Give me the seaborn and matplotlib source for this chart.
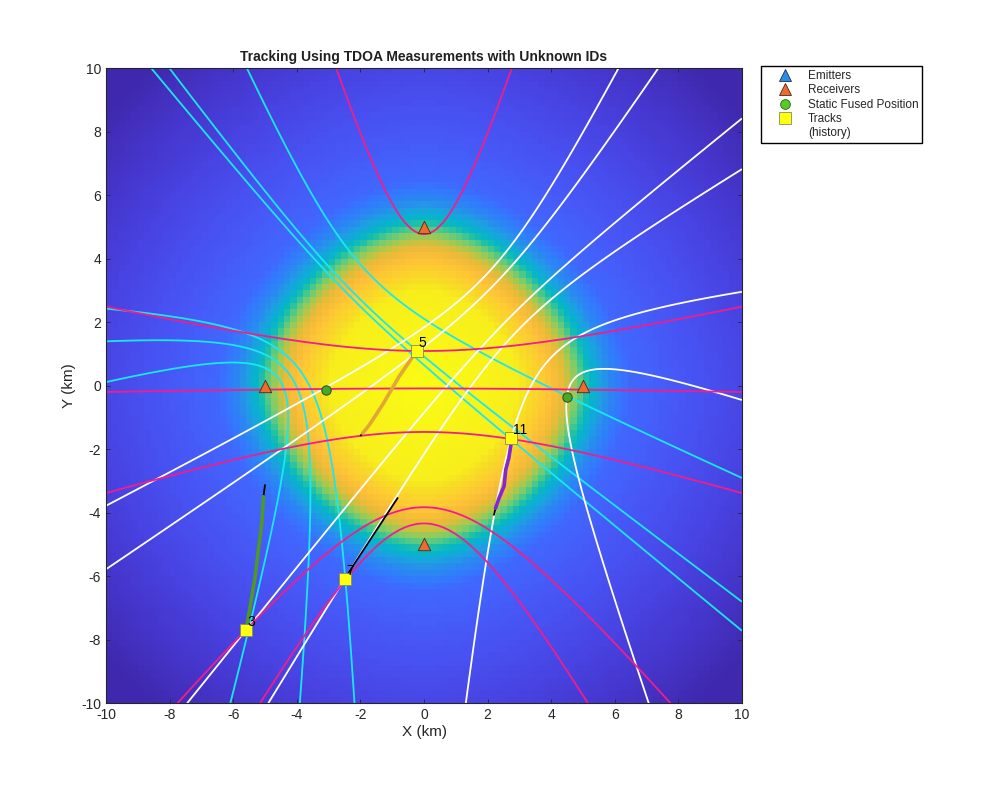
import numpy as np
import matplotlib.pyplot as plt
import seaborn as sns
from matplotlib.colors import LinearSegmentedColormap
from matplotlib.lines import Line2D

# receivers (km), the first one (top) is the TDOA reference
receiver_x = [0.0, -5.0, 5.0, 0.0]
receiver_y = [5.0, 0.0, 0.0, -5.0]

# range differences (km) of each TDOA detection, per receiver pair with the reference
rd_left = [-6.13, -5.44, -4.77, 0.69, 1.00, 2.53]      # cyan
rd_right = [-6.37, -4.40, -1.71, -0.78, 1.37, 2.16]    # white
rd_bottom = [-8.68, -7.66, -2.92, -0.18, 2.18, 9.54]   # magenta

# emitters only appear in the legend
emitter_x = []
emitter_y = []

fused_x = [-3.08, 4.49]
fused_y = [-0.14, -0.35]

track_ids = ['5', '11', '3', '7']
track_x = [-0.22, 2.74, -5.60, -2.48]
track_y = [1.10, -1.65, -7.70, -6.08]

hist5_x = [-1.93, -1.72, -1.30, -0.78, -0.25]
hist5_y = [-1.50, -1.24, -0.60, 0.29, 1.06]
hist11_x = [2.25, 2.36, 2.52, 2.57, 2.67, 2.75]
hist11_y = [-3.86, -3.54, -3.16, -2.65, -2.27, -1.75]
hist3_x = [-5.58, -5.45, -5.31, -5.21, -5.10, -5.05]
hist3_y = [-7.60, -6.86, -6.02, -5.18, -4.34, -3.50]

# ground truth: only the oldest end shows from under the history
truth5_x = [-1.99] + hist5_x
truth5_y = [-1.57] + hist5_y
truth11_x = [2.20] + hist11_x
truth11_y = [-4.07] + hist11_y
truth3_x = [-5.00] + hist3_x[::-1]
truth3_y = [-3.13] + hist3_y[::-1]
truth7_x = [-2.51, -0.83]
truth7_y = [-6.10, -3.54]

# coverage level against distance from the receiver centre (rounded-diamond norm)
cover_r = [0.0, 3.0, 3.8, 4.4, 4.9, 5.3, 5.8, 6.5, 8.0, 10.0, 14.0]
cover_level = [1.0, 0.97, 0.88, 0.78, 0.62, 0.47, 0.32, 0.21, 0.16, 0.11, 0.01]
cover_norm = 1.7

parula = LinearSegmentedColormap.from_list('parula', [
    (0.2422, 0.1504, 0.6603), (0.2691, 0.2016, 0.7834), (0.2810, 0.2636, 0.8886),
    (0.2803, 0.3296, 0.9567), (0.2586, 0.3937, 0.9924), (0.2086, 0.4596, 0.9980),
    (0.1707, 0.5238, 0.9565), (0.1436, 0.5860, 0.9082), (0.0992, 0.6441, 0.8716),
    (0.0311, 0.6911, 0.8216), (0.0300, 0.7270, 0.7415), (0.1401, 0.7584, 0.6413),
    (0.3127, 0.7891, 0.5314), (0.4974, 0.7987, 0.4095), (0.6671, 0.7838, 0.3018),
    (0.8180, 0.7513, 0.2393), (0.9400, 0.7299, 0.2181), (0.9963, 0.7549, 0.2208),
    (0.9853, 0.8155, 0.1787), (0.9634, 0.8914, 0.1288), (0.9769, 0.9839, 0.0805)])


def range_difference(px, py, k):
    return (np.hypot(px - receiver_x[k], py - receiver_y[k])
            - np.hypot(px - receiver_x[0], py - receiver_y[0]))


sns.set_theme(style='white')
plt.rcParams['font.family'] = ['Liberation Sans', 'DejaVu Sans']
plt.rcParams['axes.unicode_minus'] = False

fig = plt.figure(figsize=(10, 8), dpi=100)
ax = fig.add_axes([0.106, 0.121, 0.636, 0.794])

# coverage map
edges = np.linspace(-10, 10, 101)
centres = (edges[:-1] + edges[1:]) / 2
cx, cy = np.meshgrid(centres, centres)
ox, oy = np.mean(receiver_x), np.mean(receiver_y)
r = (np.abs(cx - ox) ** cover_norm + np.abs(cy - oy) ** cover_norm) ** (1 / cover_norm)
cov = np.interp(r, cover_r, cover_level)
ax.pcolormesh(edges, edges, cov, cmap=parula, vmin=0, vmax=1, shading='flat', zorder=0)

# TDOA hyperbolas
fx, fy = np.meshgrid(np.linspace(-10, 10, 1201), np.linspace(-10, 10, 1201))
for k, rd, col in [(1, rd_left, '#19E8F2'), (2, rd_right, 'white'), (3, rd_bottom, '#F21D8D')]:
    ax.contour(fx, fy, range_difference(fx, fy, k), levels=sorted(rd),
               colors=col, linewidths=1.3, linestyles='solid', zorder=2)

# truth and track history
for tx, ty in [(truth5_x, truth5_y), (truth11_x, truth11_y), (truth3_x, truth3_y), (truth7_x, truth7_y)]:
    ax.plot(tx, ty, color='black', lw=1.3, zorder=3)
for hx, hy, col in [(hist5_x, hist5_y, '#E2A634'), (hist11_x, hist11_y, '#8526D0'),
                    (hist3_x, hist3_y, '#4C9A25')]:
    sns.lineplot(x=hx, y=hy, sort=False, estimator=None, color=col, lw=2.6, ax=ax, zorder=4)

sns.scatterplot(x=receiver_x, y=receiver_y, marker='^', s=80, color='#EE6A2E',
                edgecolor='#4a2a1a', linewidth=0.6, ax=ax, zorder=6)
sns.scatterplot(x=fused_x, y=fused_y, marker='o', s=45, color='#47A82A',
                edgecolor='#2f5a25', linewidth=0.8, ax=ax, zorder=6)
sns.scatterplot(x=track_x, y=track_y, marker='s', s=70, color='#FFFF10',
                edgecolor='#8a8a5a', linewidth=0.6, ax=ax, zorder=7)
for tid, tx, ty in zip(track_ids, track_x, track_y):
    ax.text(tx + 0.05, ty + 0.12, tid, fontsize=10, color='black', zorder=8)

ax.plot(emitter_x, emitter_y, ls='none')

ax.set_xlim(-10, 10)
ax.set_ylim(-10, 10)
ax.set_xticks(np.arange(-10, 11, 2))
ax.set_yticks(np.arange(-10, 11, 2))
ax.tick_params(direction='in', length=3, width=0.6, labelsize=10, top=True, right=True,
               bottom=True, left=True, color='#262626', labelcolor='#262626')
for s in ax.spines.values():
    s.set_color('#262626')
    s.set_linewidth(0.8)
ax.set_xlabel('X (km)', fontsize=11, labelpad=2, color='#262626')
ax.set_ylabel('Y (km)', fontsize=11, labelpad=4, color='#262626')
ax.set_title('Tracking Using TDOA Measurements with Unknown IDs', fontsize=10,
             fontweight='bold', pad=5, color='#202020')

handles = [
    Line2D([], [], ls='none', marker='^', ms=8, mfc='#2E8BE6', mec='#1a3050', mew=0.6),
    Line2D([], [], ls='none', marker='^', ms=8, mfc='#EE6A2E', mec='#4a2a1a', mew=0.6),
    Line2D([], [], ls='none', marker='o', ms=7, mfc='#55CC22', mec='#2f5a25', mew=0.6),
    Line2D([], [], ls='none', marker='s', ms=9, mfc='#FFFF10', mec='#8a8a5a', mew=0.6),
    Line2D([], [], ls='none', color='none'),
]
labels = ['Emitters', 'Receivers', 'Static Fused Position', 'Tracks', '(history)']
fig.legend(handles, labels, loc='upper left', bbox_to_anchor=(0.761, 0.917),
           fontsize=8.5, frameon=True, fancybox=False, edgecolor='black',
           framealpha=1, borderpad=0.3, labelspacing=0.2, handletextpad=0.3,
           handlelength=3.4, borderaxespad=0)

fig.savefig('out.png', dpi=100)
